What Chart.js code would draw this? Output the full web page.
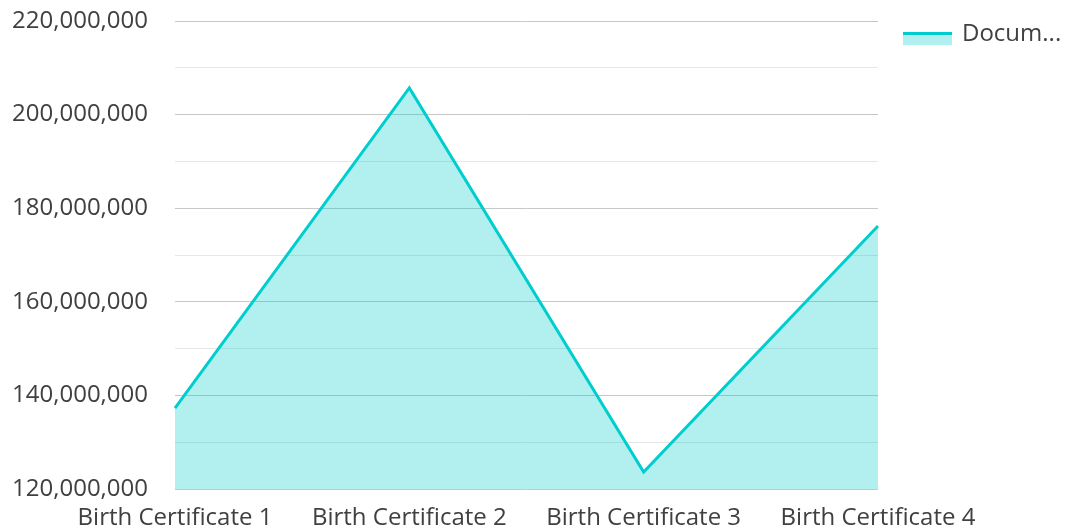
<!DOCTYPE html>
<html>
<head>
<meta charset="utf-8">
<script src="https://cdn.jsdelivr.net/npm/chart.js@4/dist/chart.umd.min.js"></script>
<style>
html,body{margin:0;padding:0;background:#fff;}
#wrap{width:1067px;height:528px;position:relative;}
</style>
</head>
<body>
<div id="wrap"><canvas id="c" width="1067" height="528"></canvas></div>
<script>
const categories = ["Birth Certificate 1", "Birth Certificate 2", "Birth Certificate 3", "Birth Certificate 4"];
const seriesName = "Documents";
const legendText = "Docum...";
const values = [137300000, 205700000, 123600000, 176200000];
const yMin = 120000000, yMax = 220000000, yStep = 10000000;

const FONT = "'Open Sans', 'Noto Sans', sans-serif";
const TEXT = '#404040';
const lineColor = "rgb(0,206,206)";
const fillColor = "rgba(0,206,206,0.3)";

const legendPlugin = {
  id: 'customLegend',
  afterDraw(chart) {
    const ctx = chart.ctx;
    ctx.save();
    const x = 903, y = 32, w = 49;
    ctx.fillStyle = fillColor;
    ctx.fillRect(x, y, w, 13);
    ctx.fillStyle = lineColor;
    ctx.fillRect(x, y, w, 3);
    ctx.fillStyle = TEXT;
    ctx.font = "24px " + FONT;
    ctx.textBaseline = 'middle';
    ctx.textAlign = 'left';
    ctx.fillText(legendText, 962, 34);
    ctx.restore();
  }
};

new Chart(document.getElementById('c'), {
  type: 'line',
  data: {
    labels: categories,
    datasets: [{
      label: seriesName,
      data: values,
      borderColor: lineColor,
      backgroundColor: fillColor,
      borderWidth: 3,
      fill: 'start',
      tension: 0,
      pointRadius: 0,
      pointHoverRadius: 0
    }]
  },
  options: {
    responsive: false,
    animation: false,
    layout: { padding: { left: 0, right: 189, top: 21, bottom: 0 } },
    plugins: { legend: { display: false }, tooltip: { enabled: false } },
    scales: {
      x: {
        offset: false,
        grid: { display: false, drawTicks: false },
        border: { display: false },
        ticks: { color: TEXT, font: { family: FONT, size: 24 }, padding: 15, maxRotation: 0, autoSkip: false },
        afterFit(s) { s.height = 39; s.paddingLeft = 0; s.paddingRight = 0; }
      },
      y: {
        min: yMin, max: yMax,
        grid: {
          drawTicks: false,
          color: (c) => ((c.tick && Math.round(c.tick.value / yStep) % 2 === 0) ? '#c8c8c8' : '#e6e6e6'),
          lineWidth: 1
        },
        border: { display: false },
        ticks: {
          stepSize: yStep,
          color: TEXT,
          font: { family: FONT, size: 24 },
          padding: 27,
          callback: (v) => (Math.round(v / yStep) % 2 === 0 ? v.toLocaleString('en-US') : '')
        },
        afterFit(s) { s.width = 175; s.paddingTop = 0; s.paddingBottom = 0; }
      }
    }
  },
  plugins: [legendPlugin]
});
</script>
</body>
</html>
